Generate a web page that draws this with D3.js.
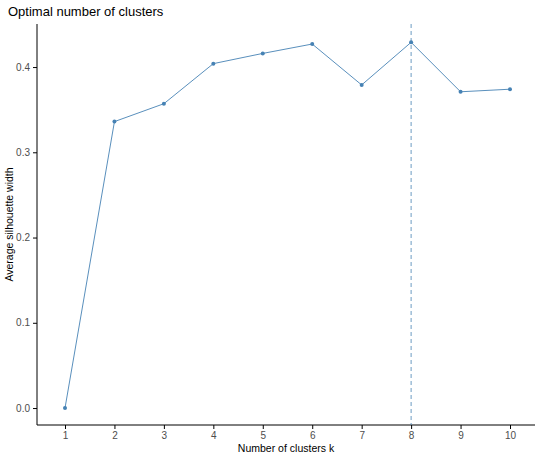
<!DOCTYPE html>
<html><head><meta charset="utf-8">
<script src="https://cdn.jsdelivr.net/npm/d3@7"></script>
<style>body{margin:0;background:#fff}text{font-family:"Liberation Sans",Arial,sans-serif}</style>
</head><body><svg id="c" width="544" height="459"></svg>
<script>
const ks=[1,2,3,4,5,6,7,8,9,10];
const sil=[0.0,0.336,0.357,0.404,0.416,0.427,0.379,0.429,0.371,0.374];
const yTicks=[0.0,0.1,0.2,0.3,0.4];
const bestK=8;
const svg=d3.select("#c");
const L=37,R=535,T=24,B=425;
const x=d3.scalePoint().domain(ks).range([65,510]);
const y=d3.scaleLinear().domain([-0.0199,0.4505]).range([B,T]);
svg.append("text").attr("x",8).attr("y",16).attr("font-size",13).attr("fill","#000").text("Optimal number of clusters");
const gx=svg.append("g").attr("transform",`translate(0,${B})`).call(d3.axisBottom(x).tickSizeOuter(0).tickSize(4));
gx.select(".domain").attr("d",`M${L},0H${R}`);
const gy=svg.append("g").attr("transform",`translate(${L},0)`).call(d3.axisLeft(y).tickValues(yTicks).tickFormat(d3.format(".1f")).tickSize(4).tickSizeOuter(0));
gy.select(".domain").attr("d",`M0,${T}V${B}`);
svg.selectAll(".tick text").attr("font-size",10).attr("fill","#4d4d4d");
svg.selectAll(".domain,.tick line").attr("stroke","#000");
svg.append("line").attr("x1",x(bestK)).attr("x2",x(bestK)).attr("y1",T).attr("y2",B).attr("stroke","#4682b4").attr("stroke-dasharray","4,3").attr("stroke-width",0.8);
svg.append("path").datum(ks.map((k,i)=>[k,sil[i]])).attr("fill","none").attr("stroke","#4682b4").attr("stroke-width",0.9)
 .attr("d",d3.line().x(d=>x(d[0])).y(d=>y(d[1])));
svg.selectAll("circle").data(sil).join("circle").attr("cx",(d,i)=>x(ks[i])).attr("cy",d=>y(d)).attr("r",2).attr("fill","#4682b4");
svg.append("text").attr("x",(L+R)/2).attr("y",452).attr("text-anchor","middle").attr("font-size",10.5).text("Number of clusters k");
svg.append("text").attr("transform",`translate(13,${(T+B)/2}) rotate(-90)`).attr("text-anchor","middle").attr("font-size",10.5).text("Average silhouette width");
</script></body></html>
